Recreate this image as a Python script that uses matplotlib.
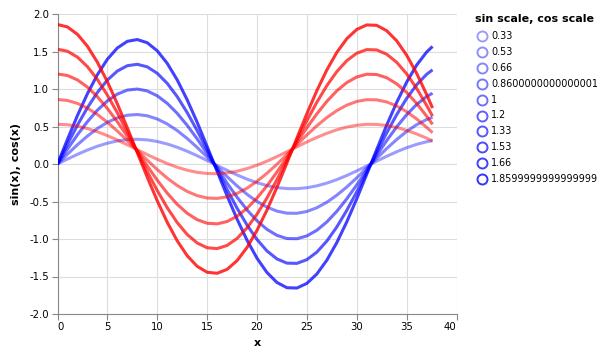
import matplotlib
matplotlib.use('Agg')
import matplotlib.pyplot as plt
from matplotlib.lines import Line2D
import numpy as np

# x samples and the base wave shapes
x = [0, 1, 2, 3, 4, 5, 6, 7, 8, 9, 10, 11, 12, 13, 14, 15, 16, 17, 18, 19,
     20, 21, 22, 23, 24, 25, 26, 27, 28, 29, 30, 31, 32, 33, 34, 35, 36, 37, 37.6]
sin_base = [0.0, 0.1987, 0.3894, 0.5646, 0.7174, 0.8415, 0.9320, 0.9854, 0.9996, 0.9738,
            0.9093, 0.8085, 0.6755, 0.5155, 0.3350, 0.1411, -0.0584, -0.2555, -0.4425, -0.6119,
            -0.7568, -0.8716, -0.9516, -0.9937, -0.9962, -0.9589, -0.8835, -0.7728, -0.6313, -0.4646,
            -0.2794, -0.0831, 0.1165, 0.3115, 0.4941, 0.6570, 0.7937, 0.8987, 0.9443]
cos_base = [1.0, 0.9801, 0.9211, 0.8253, 0.6967, 0.5403, 0.3624, 0.1700, -0.0292, -0.2272,
            -0.4161, -0.5885, -0.7374, -0.8569, -0.9422, -0.9900, -0.9983, -0.9668, -0.8968, -0.7910,
            -0.6536, -0.4903, -0.3073, -0.1122, 0.0875, 0.2837, 0.4685, 0.6347, 0.7756, 0.8855,
            0.9602, 0.9965, 0.9932, 0.9502, 0.8694, 0.7539, 0.6084, 0.4385, 0.3289]

sin_scale = [0.33, 0.66, 1, 1.33, 1.66]
cos_scale = [0.53, 0.86, 1.2, 1.53, 1.86]
cos_shift = 0.2

legend_labels = ['0.33', '0.53', '0.66', '0.8600000000000001', '1', '1.2', '1.33',
                 '1.53', '1.66', '1.8599999999999999']
legend_values = [0.33, 0.53, 0.66, 0.86, 1, 1.2, 1.33, 1.53, 1.66, 1.86]

vmax = max(legend_values)
def opac(v):
    return 0.3 + 0.5 * v / vmax

W, H = 608, 356
fig = plt.figure(figsize=(W / 100, H / 100), dpi=100)
L, R, T, B = 57.5, 456.5, 14, 314
ax = fig.add_axes([L / W, 1 - B / H, (R - L) / W, (B - T) / H])

xa = np.array(x)
sb = np.array(sin_base)
cb = np.array(cos_base)
for s in sin_scale:
    ax.plot(xa, s * sb, color='#0000ff', alpha=opac(s), lw=2.2,
            solid_capstyle='butt', zorder=3)
for c in cos_scale:
    amp = c - cos_shift
    ax.plot(xa, amp * cb + cos_shift, color='#ff0000', alpha=opac(c), lw=2.2,
            solid_capstyle='butt', zorder=3)

ax.set_xlim(0, 40)
ax.set_ylim(-2, 2)
ax.set_xticks(range(0, 41, 5))
ax.set_yticks(np.arange(-2, 2.01, 0.5))
ax.set_yticklabels(['%.1f' % v for v in np.arange(-2, 2.01, 0.5)])
ax.grid(True, color='#dddddd', lw=0.8, zorder=0)
ax.set_axisbelow(True)
for sp in ['top', 'right']:
    ax.spines[sp].set_visible(False)
for sp in ['left', 'bottom']:
    ax.spines[sp].set_color('#888888')
    ax.spines[sp].set_linewidth(0.8)
ax.tick_params(colors='#888888', labelcolor='black', labelsize=7.3, length=4, width=0.8, pad=2)
xl = ax.get_xticklabels()
xl[0].set_horizontalalignment('left')
xl[-1].set_horizontalalignment('right')
ax.set_xlabel('x', fontsize=8, fontweight='bold', labelpad=4)
ax.set_ylabel('sin(x), cos(x)', fontsize=8, fontweight='bold', labelpad=6)

# legend, drawn by hand in figure pixels
fig.text(475 / W, 1 - 19 / H, 'sin scale, cos scale', fontsize=8, fontweight='bold',
         ha='left', va='center')
for i, (lab, v) in enumerate(zip(legend_labels, legend_values)):
    yy = 1 - (36 + i * 15.9) / H
    fig.add_artist(Line2D([482 / W], [yy], marker='o', markersize=7.2, markerfacecolor='none',
                          markeredgecolor='#0000ff', markeredgewidth=1.4, alpha=opac(v),
                          transform=fig.transFigure))
    fig.text(491 / W, yy, lab, fontsize=6.9, ha='left', va='center')

fig.savefig('out.png', dpi=100)
